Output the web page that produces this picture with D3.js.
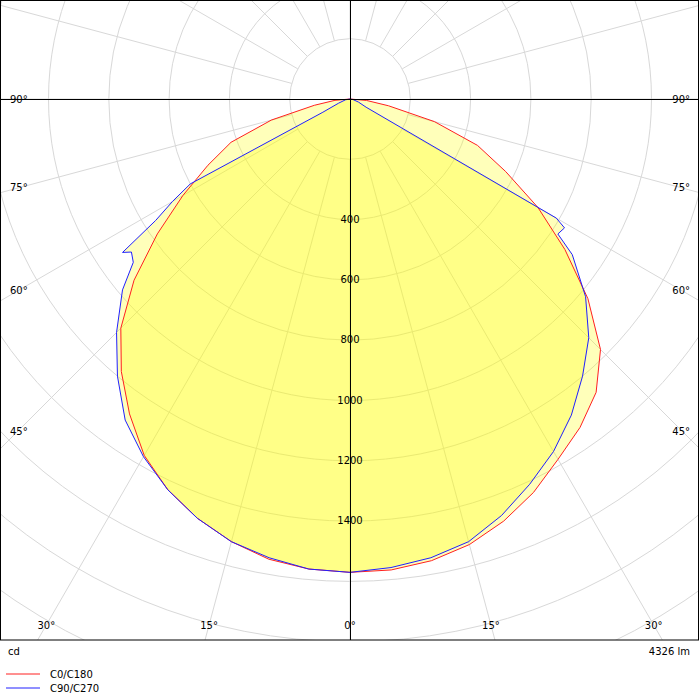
<!DOCTYPE html>
<html><head><meta charset="utf-8">
<script src="https://cdn.jsdelivr.net/npm/d3@7"></script>
<style>body{margin:0;background:#fff}text{font-family:"DejaVu Sans",sans-serif;font-size:10px;fill:#000}</style>
</head><body><svg id="c" width="700" height="700"></svg>
<script>
// intensity in cd, angle from nadir in degrees
var c0Angles = [0,5,10,15,20,25,30,35,40,45,50,55,60,65,70,75,80,85,90];
var c0Values = [1570,1568,1555,1530,1490,1440,1380,1330,1270,1175,1030,870,720,570,450,290,130,55,0];
var c180Angles = [0,5,10,15,20,25,30,35,40,45,50,55,60,65,70,75,80,85,90];
var c180Values = [1570,1565,1550,1520,1480,1430,1365,1275,1180,1075,935,780,640,520,420,270,120,50,0];
var c90Angles = [0,5,10,15,20,25,30,35,40,45,50,55,57,59,60,63,70,80,90];
var c90Values = [1570,1560,1545,1520,1470,1410,1350,1280,1200,1120,1020,900,822,830,790,60,30,10,0];
var c270Angles = [0,5,10,15,20,25,30,35,40,45,50,53,55,56,58,60,62,64,70,80,90];
var c270Values = [1570,1565,1545,1520,1480,1430,1370,1300,1200,1095,985,900,885,910,760,680,600,100,40,15,0];
var ringValues = [200,400,600,800,1000,1200,1400,1600,1800,2000,2200,2400];
var ringLabels = [400,600,800,1000,1200,1400];
var sideAngles = [90,75,60,45];
var sideLabelY = [99,187,290,431];
var bottomAngles = [-30,-15,0,15,30];

var svg = d3.select("#c");
var cx = 350, cy = 99, plotH = 640;
var r = d3.scaleLinear().domain([0, 1000]).range([0, 301.5]);

function pt(deg, v) {
  var a = deg * Math.PI / 180;
  return [cx + r(v) * Math.sin(a), cy + r(v) * Math.cos(a)];
}

svg.append("clipPath").attr("id", "clip").append("rect")
  .attr("x", 0).attr("y", 0).attr("width", 699).attr("height", plotH);
var g = svg.append("g").attr("clip-path", "url(#clip)");

// grid
ringValues.forEach(function(v) {
  g.append("circle").attr("cx", cx).attr("cy", cy).attr("r", r(v))
    .attr("fill", "none").attr("stroke", "#d8d8d8");
});
d3.range(0, 360, 15).forEach(function(d) {
  var p0 = pt(d, 200), p1 = pt(d, 3000);
  g.append("line").attr("x1", p0[0]).attr("y1", p0[1]).attr("x2", p1[0]).attr("y2", p1[1])
    .attr("stroke", "#d8d8d8");
});

// curves: right half positive angle, left half negative
function curve(rightA, rightV, leftA, leftV) {
  var pts = [];
  rightA.forEach(function(a, i) { pts.push(pt(a, rightV[i])); });
  for (var i = leftA.length - 1; i >= 0; i--) pts.push(pt(-leftA[i], leftV[i]));
  return pts;
}
var red = curve(c0Angles, c0Values, c180Angles, c180Values);
var blue = curve(c90Angles, c90Values, c270Angles, c270Values);
var line = d3.line().curve(d3.curveLinearClosed);
[red, blue].forEach(function(p) {
  g.append("path").attr("d", line(p)).attr("fill", "rgb(255,255,0)").attr("fill-opacity", 0.27).attr("stroke", "none");
});
g.append("path").attr("d", line(red)).attr("fill", "none").attr("stroke", "#ff2020");
g.append("path").attr("d", line(blue)).attr("fill", "none").attr("stroke", "#2020ff");

// axes
g.append("line").attr("x1", 0).attr("x2", 700).attr("y1", cy + 0.5).attr("y2", cy + 0.5).attr("stroke", "#000");
g.append("line").attr("x1", cx + 0.5).attr("x2", cx + 0.5).attr("y1", 0).attr("y2", plotH).attr("stroke", "#000");
svg.append("rect").attr("x", 0.5).attr("y", 0.5).attr("width", 698).attr("height", plotH - 0.5)
  .attr("fill", "none").attr("stroke", "#000");

ringLabels.forEach(function(v) {
  svg.append("text").attr("x", cx).attr("y", cy + r(v) + 3).attr("text-anchor", "middle").text(v);
});
sideAngles.forEach(function(d, i) {
  var y = sideLabelY[i];
  svg.append("text").attr("x", 10).attr("y", y + 4).text(d + "°");
  svg.append("text").attr("x", 690).attr("y", y + 4).attr("text-anchor", "end").text(d + "°");
});
bottomAngles.forEach(function(d) {
  var a = d * Math.PI / 180;
  var x = cx + 526 * Math.tan(a);
  svg.append("text").attr("x", x).attr("y", 629).attr("text-anchor", "middle").text(Math.abs(d) + "°");
});

svg.append("text").attr("x", 8).attr("y", 655).text("cd");
svg.append("text").attr("x", 690).attr("y", 655).attr("text-anchor", "end").text("4326 lm");

[["C0/C180", "#ff2020"], ["C90/C270", "#2020ff"]].forEach(function(l, i) {
  var y = 674 + i * 14;
  svg.append("line").attr("x1", 6).attr("x2", 40).attr("y1", y).attr("y2", y).attr("stroke", l[1]);
  svg.append("text").attr("x", 50).attr("y", y + 4).text(l[0]);
});
</script></body></html>
